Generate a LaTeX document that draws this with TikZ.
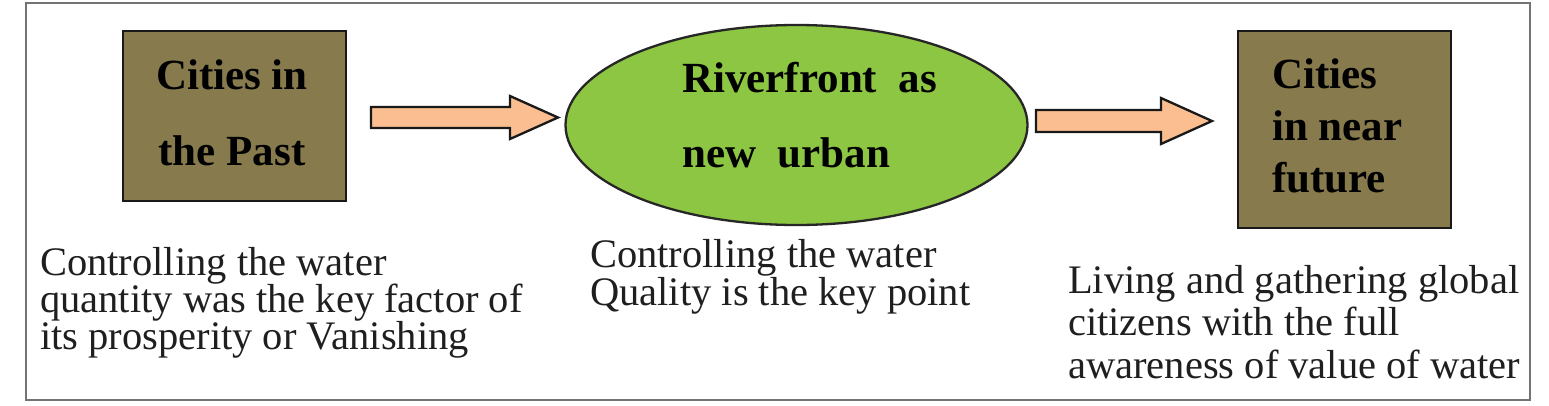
\documentclass[tikz,border=0pt]{standalone}
\usepackage{fontspec}
\setmainfont{Liberation Serif}
\usetikzlibrary{shapes.geometric}
\begin{document}
\begin{tikzpicture}[x=1pt,y=-1pt,
  frame/.style={draw=black!55,line width=2pt},
  olivebox/.style={draw=black!90,line width=2.8pt,fill=olivefill,inner sep=0pt},
  greenoval/.style={draw=black!85,line width=2.3pt,fill=ovalgreen,ellipse,inner sep=0pt},
  blockarrow/.style={draw=black!90,line width=2.3pt,fill=peach,line join=miter},
  boldtxt/.style={font=\fontsize{43}{43}\selectfont\bfseries,inner sep=0pt,text=black},
  plaintxt/.style={font=\fontsize{40.5}{40.5}\selectfont,inner sep=0pt,text=black!88,anchor=base west}]
\definecolor{olivefill}{RGB}{135,123,77}
\definecolor{ovalgreen}{RGB}{141,198,66}
\definecolor{peach}{RGB}{250,190,145}
\useasboundingbox (0,0) rectangle (1549,405);
\fill[white] (0,0) rectangle (1549,405);
\draw[frame] (26,3) rectangle (1530,400);
% boxes
\node[olivebox,minimum width=223pt,minimum height=170pt] (past) at (234.5,116) {};
\node[boldtxt,anchor=base] (pastA) at (232,89) {Cities in};
\node[boldtxt,anchor=base] (pastB) at (232,165) {the Past};
\node[greenoval,minimum width=462pt,minimum height=200pt] (river) at (796.5,125) {};
\node[boldtxt,anchor=base west] (riverA) at (682,92) {Riverfront\ \ as};
\node[boldtxt,anchor=base west] (riverB) at (682,167) {new\ \ urban};
\node[olivebox,minimum width=213pt,minimum height=197pt] (future) at (1344.5,129.5) {};
\node[boldtxt,anchor=base west] (futA) at (1272,88) {Cities};
\node[boldtxt,anchor=base west] (futB) at (1272,140) {in near};
\node[boldtxt,anchor=base west] (futC) at (1272,192) {future};
% block arrows
\coordinate (a1s) at (371,117.5);
\coordinate (a1e) at (558,117.5);
\draw[blockarrow] (a1s) ++(0,-10.5) -- ++(139,0) -- ++(0,-11) -- (a1e) -- ++(-48,21.5) -- ++(0,-11) -- ++(-139,0) -- cycle;
\coordinate (a2s) at (1036,121);
\coordinate (a2e) at (1212,121);
\draw[blockarrow] (a2s) ++(0,-11) -- ++(125,0) -- ++(0,-12) -- (a2e) -- ++(-51,23) -- ++(0,-12) -- ++(-125,0) -- cycle;
% descriptions
\node[plaintxt] (d1a) at (40,275) {Controlling the water};
\node[plaintxt] (d1b) at (40,312) {quantity was the key factor of};
\node[plaintxt] (d1c) at (40,349) {its prosperity or Vanishing};
\node[plaintxt] (d2a) at (590,267) {Controlling the water};
\node[plaintxt] (d2b) at (590,305) {Quality is the key point};
\node[plaintxt] (d3a) at (1068,293) {Living and gathering global};
\node[plaintxt] (d3b) at (1068,335.5) {citizens with the full};
\node[plaintxt] (d3c) at (1068,378) {awareness of value of water};
\end{tikzpicture}
\end{document}
